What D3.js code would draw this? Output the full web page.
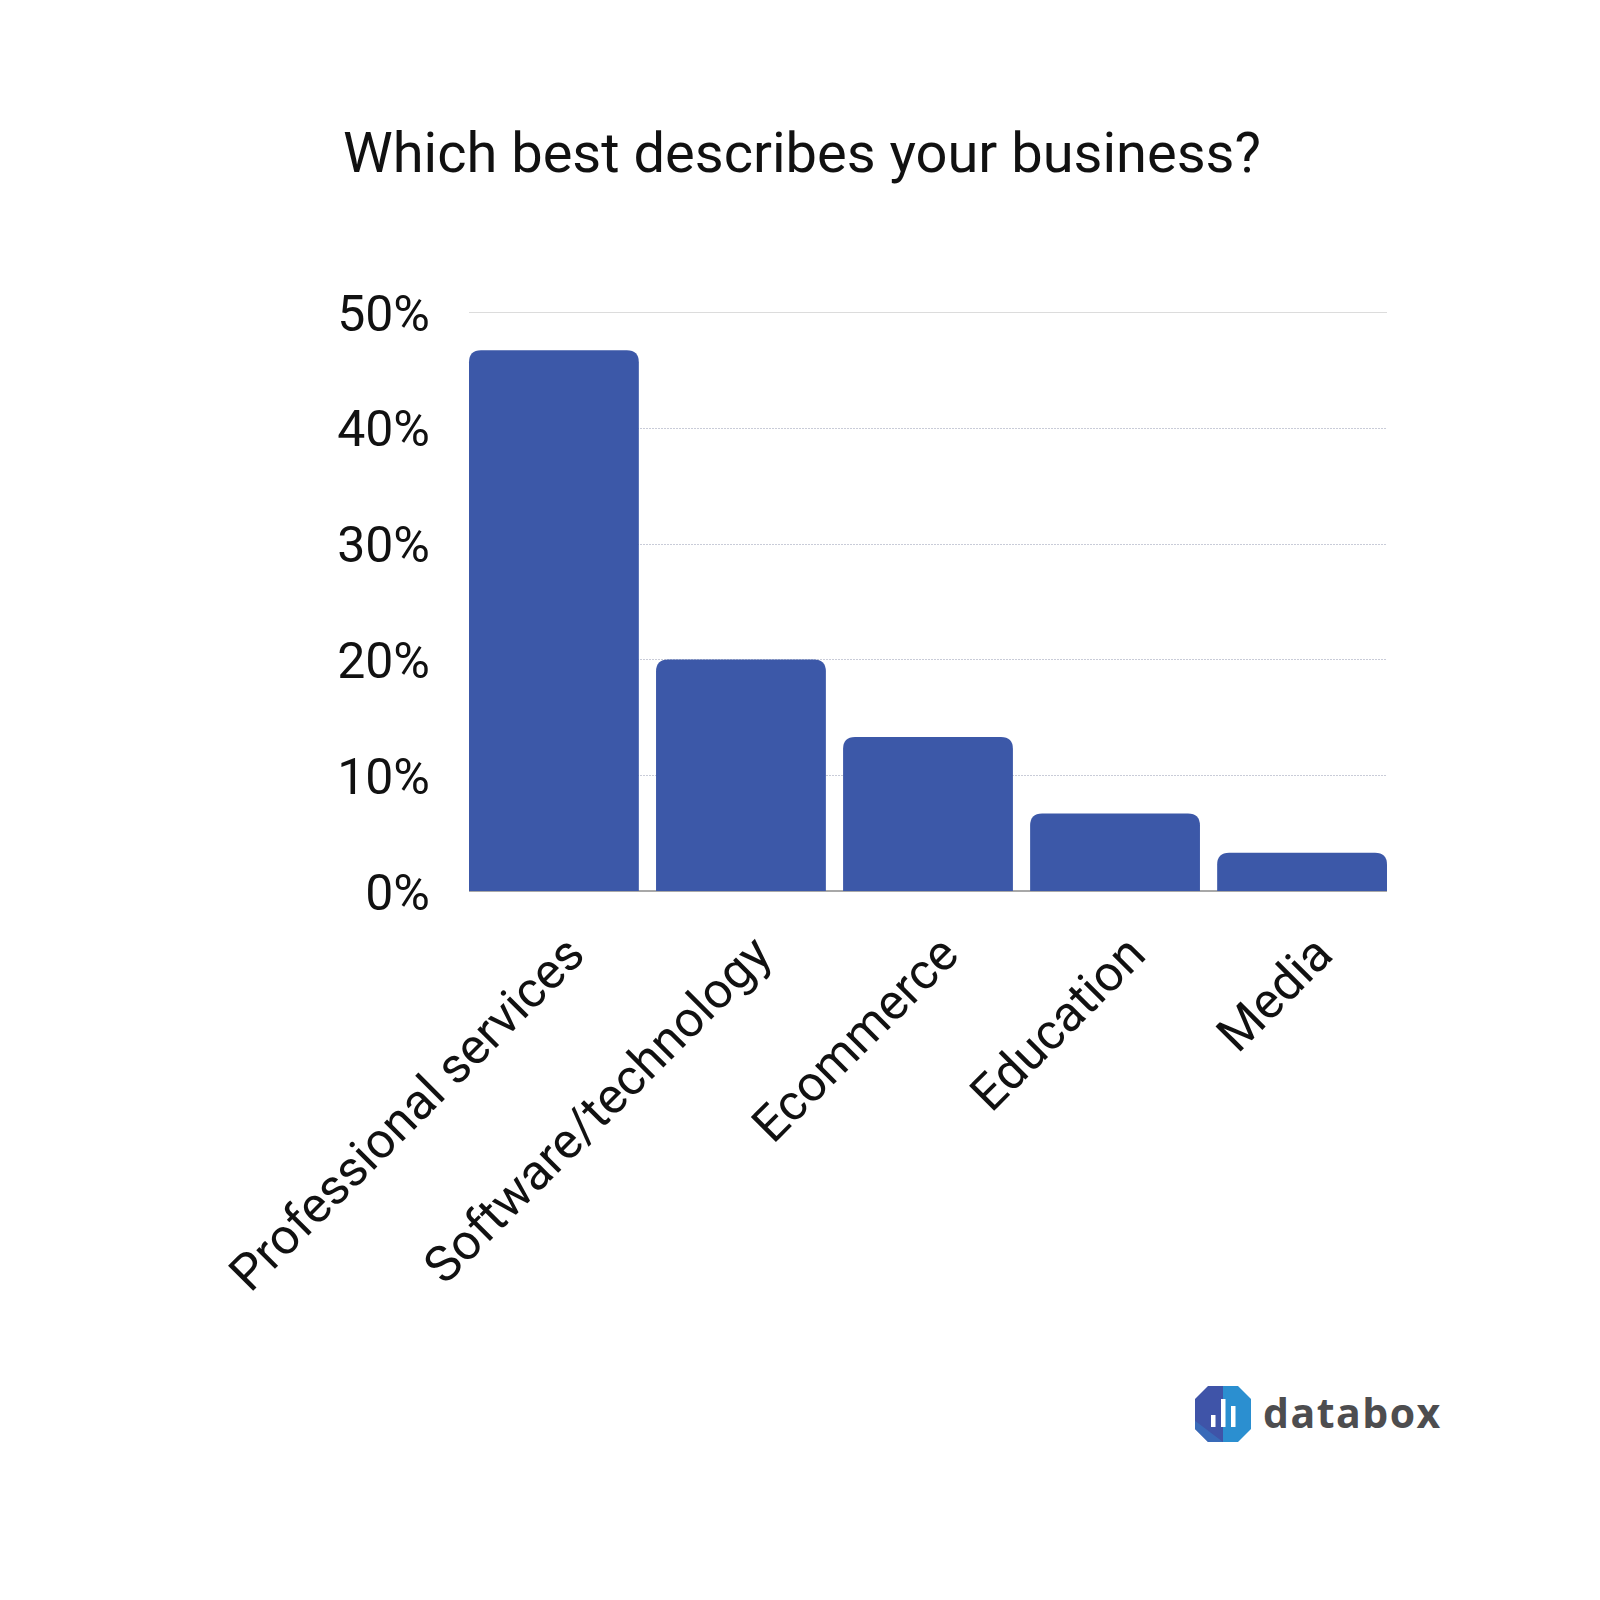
<!DOCTYPE html>
<html>
<head>
<meta charset="utf-8">
<script src="https://cdn.jsdelivr.net/npm/d3@7"></script>
<style>
  html, body { margin: 0; padding: 0; background: #ffffff; }
  svg { display: block; }
</style>
</head>
<body>
<svg id="chart" width="1600" height="1600"></svg>
<script>
// ---- data ----
const title = "Which best describes your business?";
const categories = ["Professional services", "Software/technology", "Ecommerce", "Education", "Media"];
const values = [46.7, 20.0, 13.3, 6.7, 3.3];
const yTicks = [0, 10, 20, 30, 40, 50];
const yTickLabels = ["0%", "10%", "20%", "30%", "40%", "50%"];
const brand = "databox";

// ---- layout ----
const svg = d3.select("#chart");
const W = 1600, H = 1600;
svg.append("rect").attr("width", W).attr("height", H).attr("fill", "#ffffff");

const plot = { left: 469, right: 1387, top: 312, bottom: 891 };
const FONT = "Roboto, 'Noto Sans', sans-serif";
const BAR_COLOR = "#3c58a8";

const x = d3.scaleBand()
  .domain(categories)
  .range([plot.left, plot.right])
  .paddingInner(0.092)
  .paddingOuter(0);

const y = d3.scaleLinear()
  .domain([0, 50])
  .range([plot.bottom, plot.top]);

// title
svg.append("text")
  .attr("x", 343)
  .attr("y", 172)
  .attr("font-family", FONT)
  .attr("font-size", 56)
  .attr("fill", "#111111")
  .text(title);

// gridlines
const grid = svg.append("g").attr("class", "grid");
grid.selectAll("line")
  .data(yTicks.filter(t => t > 0))
  .join("line")
  .attr("x1", plot.left)
  .attr("x2", plot.right)
  .attr("y1", d => Math.round(y(d)) + 0.5)
  .attr("y2", d => Math.round(y(d)) + 0.5)
  .attr("stroke", d => d === 50 ? "#dcdcdc" : "#c9ccd8")
  .attr("stroke-width", 1)
  .attr("stroke-dasharray", d => d === 50 ? null : "2,1");

// y axis labels
const yAxis = d3.axisLeft(y)
  .tickValues(yTicks)
  .tickFormat((d, i) => yTickLabels[i])
  .tickSize(0)
  .tickPadding(0);
const yg = svg.append("g")
  .attr("transform", `translate(430,0)`)
  .call(yAxis);
yg.select(".domain").remove();
yg.selectAll("text")
  .attr("font-family", FONT)
  .attr("font-size", 50)
  .attr("fill", "#111111")
  .attr("dy", "0.36em");

// baseline
svg.append("line")
  .attr("x1", plot.left)
  .attr("x2", plot.right)
  .attr("y1", plot.bottom)
  .attr("y2", plot.bottom)
  .attr("stroke", "#a8a8a8")
  .attr("stroke-width", 2);

// bars with rounded top corners
const R = 12;
function barPath(x0, w, yTop, yBot) {
  const r = Math.min(R, (yBot - yTop), w / 2);
  return `M${x0},${yBot}` +
    `L${x0},${yTop + r}` +
    `Q${x0},${yTop} ${x0 + r},${yTop}` +
    `L${x0 + w - r},${yTop}` +
    `Q${x0 + w},${yTop} ${x0 + w},${yTop + r}` +
    `L${x0 + w},${yBot}Z`;
}
svg.append("g").selectAll("path")
  .data(categories.map((c, i) => ({ c, v: values[i] })))
  .join("path")
  .attr("d", d => barPath(x(d.c), x.bandwidth(), y(d.v), y(0)))
  .attr("fill", BAR_COLOR);

// x axis labels (rotated)
const xAxis = d3.axisBottom(x).tickSize(0).tickPadding(0);
const xg = svg.append("g")
  .attr("transform", `translate(0,${plot.bottom})`)
  .call(xAxis);
xg.select(".domain").remove();
xg.selectAll(".tick text")
  .attr("font-family", FONT)
  .attr("font-size", 50)
  .attr("fill", "#111111")
  .attr("text-anchor", "end")
  .attr("dy", null)
  .attr("y", null)
  .attr("transform", "translate(33,66) rotate(-45)");

// ---- databox logo ----
const logo = svg.append("g").attr("transform", "translate(1195,1386)");
const S = 56;
const c = 13;
const hex = [[c, 0], [S - c, 0], [S, c], [S, S - c], [S - c, S], [c, S], [0, S - c], [0, c]];
const defs = svg.append("defs");
defs.append("clipPath").attr("id", "hexclip")
  .append("path").attr("d", "M" + hex.map(p => p.join(",")).join("L") + "Z");
const lg = logo.append("g").attr("clip-path", "url(#hexclip)");
lg.append("rect").attr("x", 0).attr("y", 0).attr("width", S / 2 + 0.5).attr("height", S).attr("fill", "#3f54a8");
lg.append("rect").attr("x", S / 2).attr("y", 0).attr("width", S / 2).attr("height", S).attr("fill", "#2b8fd0");
lg.append("path").attr("d", `M0,${S * 0.62}L${S * 0.5},${S}L0,${S}Z`).attr("fill", "#3773bf").attr("opacity", 0.7);
const iconBars = [[16, 29, 4.5], [26, 13, 4.5], [36, 20, 4.5]];
logo.selectAll("rect.ib").data(iconBars).join("rect")
  .attr("class", "ib")
  .attr("x", d => d[0]).attr("y", d => d[1])
  .attr("width", d => d[2]).attr("height", d => 41 - d[1])
  .attr("fill", "#ffffff");

svg.append("text")
  .attr("x", 1263)
  .attr("y", 1428)
  .attr("font-family", "'Open Sans', Lato, sans-serif")
  .attr("font-weight", 700)
  .attr("font-size", 41)
  .attr("letter-spacing", 1.5)
  .attr("fill", "#4d4d4f")
  .text(brand);
</script>
</body>
</html>
